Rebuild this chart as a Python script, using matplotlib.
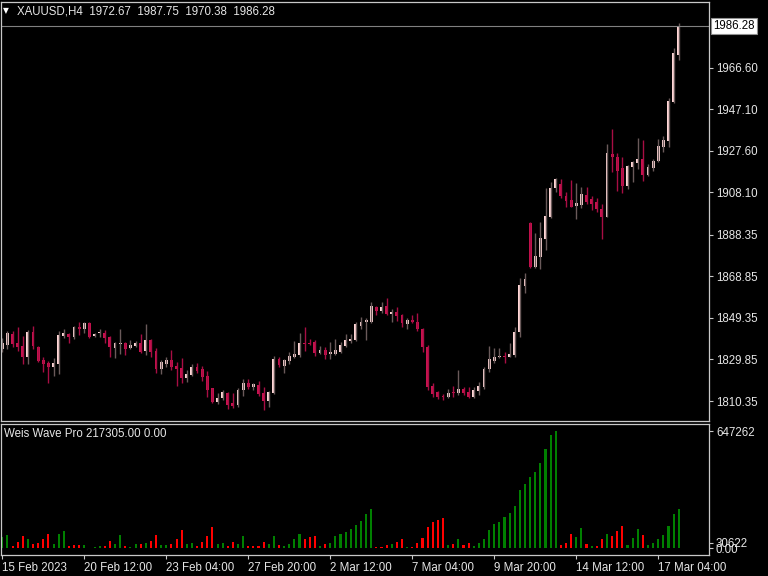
import matplotlib
matplotlib.use("Agg")
import matplotlib.pyplot as plt
import numpy as np

# XAUUSD H4, 15 Feb 2023 20:00 .. 17 Mar 2023 20:00
opens = [1834.7, 1836.6, 1841.8, 1837.5, 1836.1, 1831.0, 1842.7, 1835.7, 1829.6, 1828.2,
         1826.3, 1827.7, 1840.8, 1841.8, 1840.4, 1845.0, 1844.1, 1846.9, 1840.8, 1842.2,
         1842.2, 1840.4, 1835.2, 1837.1, 1837.5, 1835.2, 1836.1, 1837.5, 1833.8, 1839.0,
         1833.8, 1825.4, 1827.7, 1829.6, 1826.8, 1825.8, 1821.1, 1822.5, 1826.3, 1825.4,
         1822.1, 1816.4, 1809.9, 1811.8, 1814.1, 1809.4, 1808.5, 1815.5, 1818.8, 1816.9,
         1817.9, 1814.1, 1810.4, 1814.1, 1830.0, 1826.8, 1829.1, 1831.0, 1831.9, 1837.5,
         1837.5, 1838.0, 1832.9, 1834.3, 1832.4, 1832.4, 1833.3, 1836.1, 1838.5, 1839.0,
         1845.5, 1847.4, 1847.4, 1854.4, 1852.5, 1854.9, 1851.1, 1852.1, 1850.7, 1846.4,
         1848.3, 1847.4, 1844.1, 1835.7, 1817.4, 1814.6, 1812.7, 1812.2, 1814.6, 1814.1,
         1816.0, 1814.6, 1812.2, 1815.0, 1816.9, 1825.4, 1829.1, 1831.0, 1831.4, 1831.0,
         1831.9, 1842.7, 1864.3, 1893.8, 1873.2, 1877.9, 1886.3, 1896.6, 1910.2, 1912.1,
         1906.5, 1904.6, 1901.8, 1902.2, 1906.9, 1905.1, 1903.6, 1900.4, 1896.6, 1926.1,
         1924.7, 1919.6, 1911.1, 1920.1, 1921.9, 1923.8, 1916.3, 1919.6, 1922.9, 1929.4,
         1932.2, 1950.5, 1972.67]
highs = [1839.9, 1843.2, 1843.2, 1845.0, 1840.8, 1843.6, 1845.5, 1836.1, 1831.0, 1829.1,
         1830.5, 1843.2, 1844.1, 1842.2, 1845.5, 1847.4, 1847.4, 1847.4, 1842.2, 1844.1,
         1843.6, 1840.6, 1838.0, 1844.1, 1838.0, 1839.0, 1838.5, 1841.8, 1846.4, 1839.4,
         1835.2, 1829.6, 1831.0, 1834.3, 1828.6, 1830.5, 1824.9, 1827.7, 1828.2, 1826.8,
         1824.4, 1816.6, 1814.1, 1815.5, 1814.6, 1814.1, 1816.4, 1820.7, 1820.7, 1818.8,
         1819.7, 1816.9, 1815.0, 1831.4, 1831.0, 1830.0, 1833.3, 1838.5, 1842.2, 1845.0,
         1839.4, 1839.0, 1836.1, 1835.7, 1838.0, 1839.4, 1838.0, 1841.8, 1841.8, 1847.4,
         1849.7, 1849.3, 1856.8, 1854.9, 1856.8, 1858.6, 1853.5, 1854.4, 1851.1, 1849.3,
         1850.7, 1851.6, 1844.6, 1836.6, 1818.8, 1815.0, 1813.6, 1816.0, 1817.4, 1824.9,
         1816.9, 1816.9, 1816.9, 1819.3, 1826.3, 1836.1, 1835.2, 1835.2, 1833.3, 1837.5,
         1845.0, 1868.0, 1870.4, 1894.3, 1889.1, 1894.3, 1910.2, 1913.0, 1914.9, 1914.4,
         1908.3, 1914.0, 1912.6, 1910.7, 1910.7, 1906.5, 1905.5, 1902.7, 1930.8, 1937.9,
         1926.6, 1924.7, 1921.0, 1922.9, 1933.7, 1932.7, 1921.5, 1923.8, 1933.2, 1934.6,
         1952.4, 1975.8, 1987.75]
lows = [1833.3, 1834.7, 1835.7, 1833.8, 1827.7, 1827.7, 1834.7, 1828.6, 1824.0, 1818.8,
        1822.1, 1823.0, 1839.9, 1837.5, 1839.4, 1841.3, 1842.2, 1840.1, 1840.4, 1840.4,
        1837.5, 1831.0, 1830.5, 1832.4, 1831.9, 1834.7, 1835.7, 1832.9, 1831.9, 1831.0,
        1823.5, 1823.0, 1826.3, 1824.9, 1817.4, 1818.8, 1819.3, 1822.1, 1823.5, 1819.7,
        1812.2, 1809.4, 1808.9, 1810.8, 1806.6, 1807.1, 1807.5, 1812.7, 1816.0, 1815.5,
        1812.7, 1806.1, 1807.5, 1813.6, 1826.3, 1823.5, 1827.7, 1830.5, 1831.0, 1833.8,
        1836.6, 1831.4, 1832.4, 1830.0, 1830.0, 1831.9, 1832.9, 1835.7, 1837.5, 1838.5,
        1844.1, 1839.0, 1846.9, 1850.7, 1851.6, 1850.7, 1847.4, 1847.9, 1845.0, 1844.1,
        1846.9, 1843.2, 1833.3, 1815.5, 1812.2, 1811.3, 1810.8, 1811.8, 1812.2, 1813.2,
        1813.2, 1811.8, 1811.8, 1813.2, 1816.0, 1824.0, 1828.2, 1830.5, 1828.2, 1830.8,
        1831.0, 1840.4, 1861.0, 1872.7, 1872.7, 1872.2, 1881.1, 1896.1, 1908.3, 1905.5,
        1901.3, 1901.1, 1895.7, 1900.8, 1902.7, 1899.9, 1899.0, 1886.3, 1896.4, 1917.7,
        1908.8, 1907.9, 1909.7, 1913.0, 1919.1, 1913.5, 1915.8, 1918.2, 1922.4, 1927.1,
        1929.4, 1950.1, 1970.38]
closes = [1837.5, 1842.2, 1837.1, 1835.7, 1831.0, 1842.7, 1836.1, 1829.1, 1827.7, 1826.3,
          1828.2, 1841.3, 1842.2, 1840.4, 1845.0, 1844.1, 1846.9, 1840.4, 1841.8, 1842.7,
          1839.9, 1835.7, 1837.5, 1837.5, 1834.7, 1836.6, 1837.5, 1833.3, 1839.0, 1833.3,
          1825.4, 1828.6, 1829.6, 1826.3, 1825.4, 1821.1, 1823.0, 1826.3, 1824.4, 1821.6,
          1815.5, 1809.9, 1811.8, 1814.6, 1808.5, 1808.0, 1815.5, 1818.8, 1816.9, 1818.3,
          1813.6, 1810.35, 1814.6, 1830.0, 1827.2, 1829.6, 1831.4, 1832.4, 1837.5, 1837.1,
          1837.1, 1832.9, 1834.3, 1831.9, 1833.3, 1834.3, 1836.6, 1839.0, 1839.4, 1846.4,
          1847.4, 1848.3, 1854.9, 1852.5, 1854.4, 1851.1, 1852.1, 1850.2, 1846.9, 1848.3,
          1847.4, 1844.1, 1835.7, 1816.9, 1813.6, 1812.2, 1812.2, 1814.1, 1814.1, 1816.0,
          1814.1, 1812.2, 1815.5, 1817.4, 1825.4, 1830.0, 1831.0, 1831.4, 1831.0, 1832.4,
          1842.7, 1864.7, 1867.5, 1873.2, 1878.3, 1886.8, 1897.1, 1910.2, 1914.4, 1906.5,
          1904.1, 1901.3, 1903.2, 1907.4, 1903.6, 1902.7, 1900.4, 1896.6, 1926.6, 1924.7,
          1918.2, 1911.1, 1920.5, 1922.4, 1923.8, 1916.3, 1920.1, 1922.9, 1929.9, 1932.7,
          1951.0, 1973.5, 1986.28]

# Weis wave cumulative volume and wave direction (G = up wave, R = down wave)
wave_vol = [60700, 73600, 12900, 36800, 68000, 51500, 22100, 31300, 49700, 79100,
            23900, 77200, 95600, 12900, 18400, 18400, 18400, 3700, 9200, 12900,
            12900, 40500, 23900, 73600, 12900, 9200, 23900, 23900, 31300, 42300,
            73600, 18400, 18400, 23900, 51500, 101100, 23900, 31300, 12900, 36800,
            69900, 119500, 23900, 31300, 12900, 36800, 23900, 68000, 12900, 12900,
            12900, 36800, 22100, 68000, 18400, 12900, 23900, 49700, 79100, 49700,
            64400, 69900, 12900, 22100, 31300, 68000, 79100, 90100, 106700, 126900,
            150800, 189400, 215200, 9200, 9200, 18400, 23900, 33100, 51500, 9200,
            9200, 31300, 57000, 119500, 147100, 156300, 165500, 18400, 23900, 51500,
            18400, 27600, 12900, 27600, 51500, 101100, 134200, 147100, 171000, 196800,
            233600, 321800, 354900, 395400, 419300, 469000, 548000, 625300, 647262, 18400,
            31300, 79100, 60700, 110300, 23900, 12900, 12900, 51500, 77200, 68000,
            97500, 123200, 18400, 55200, 104800, 73600, 18400, 31300, 49700, 73600,
            123200, 189400, 217305]
wave_dir = ("GGRRRGRRRR" "GGGRRRGGGG" "RRGGRGGRGR" "RGGRRRGGRR" "RRGGRRGGRR"
            "RRGGRGGGGR" "RRGRGGGGGG" "GGGRRRGRRG" "RRRRRRRGRG" "RRGGGGGGGG"
            "GGGGGGGGGR" "RRGGRGRRGR" "RRGGGRGGGG" "GGG")

price_ticks = [1810.35, 1829.85, 1849.35, 1868.85, 1888.35, 1908.10, 1927.60, 1947.10, 1966.60]
time_labels = ["15 Feb 2023", "20 Feb 12:00", "23 Feb 04:00", "27 Feb 20:00", "2 Mar 12:00",
               "7 Mar 04:00", "9 Mar 20:00", "14 Mar 12:00", "17 Mar 04:00"]
vol_ticks = [0, 30622, 647262]
vol_labels = ["0.00", "30622", "647262"]

plt.rcParams['font.family'] = ['Liberation Sans', 'DejaVu Sans']
fs = 8.3
fg = '#E6E6E6'
frame = '#C8C8C8'
bull_body, bull_wick = '#FFD6D6', '#6A5A5A'
bear_body, bear_wick = '#C8124F', '#A80E44'

W, H = 768, 576
def rect(x0, y0, x1, y1):
    return [x0 / W, 1 - y1 / H, (x1 - x0) / W, (y1 - y0) / H]

fig = plt.figure(figsize=(W / 100, H / 100), dpi=100, facecolor='black')
ax = fig.add_axes(rect(1, 2, 709, 421), facecolor='black')
axv = fig.add_axes(rect(1, 424, 709, 555), facecolor='black')

o = np.array(opens); h = np.array(highs); l = np.array(lows); c = np.array(closes)
x = np.arange(len(o))
up = c >= o
ax.vlines(x[up], l[up], h[up], color=bull_wick, lw=1)
ax.vlines(x[~up], l[~up], h[~up], color=bear_wick, lw=1)
body_lo = np.minimum(o, c)
body_h = np.maximum(np.abs(c - o), 0.4)
ax.bar(x[up], body_h[up], bottom=body_lo[up], width=0.55, color=bull_body, lw=0)
ax.bar(x[~up], body_h[~up], bottom=body_lo[~up], width=0.55, color=bear_body, lw=0)

ax.axhline(closes[-1], color='#808080', lw=0.8)

xlim = (-0.25, 137.9)
ax.set_xlim(*xlim)
ax.set_ylim(1800.98, 1997.4)
ax.set_xticks([])
ax.yaxis.tick_right()
ax.set_yticks(price_ticks)
ax.set_yticklabels([f"{v:.2f}" for v in price_ticks])
ax.tick_params(axis='y', colors=frame, labelcolor=fg, labelsize=fs, length=3, pad=2)

vcol = ['#008000' if d == 'G' else '#FF0000' for d in wave_dir]
axv.bar(x, wave_vol, width=0.4, color=vcol, lw=0)
axv.set_xlim(*xlim)
axv.set_ylim(-37000, 686000)
axv.yaxis.tick_right()
axv.set_yticks(vol_ticks)
axv.set_yticklabels(vol_labels)
axv.tick_params(axis='y', colors=frame, labelcolor=fg, labelsize=fs, length=3, pad=2)
axv.set_xticks(np.arange(len(time_labels)) * 16)
axv.set_xticklabels(time_labels)
for t in axv.get_xticklabels():
    t.set_ha('left')
axv.tick_params(axis='x', colors=frame, labelcolor=fg, labelsize=fs, length=3, pad=2)

for a in (ax, axv):
    for s in a.spines.values():
        s.set_color(frame)
        s.set_linewidth(0.9)

fig.text(6 / W, 1 - 11 / H, "\u25bc", color='white', fontsize=5.5, ha='center', va='center',
         family='DejaVu Sans')
fig.text(17 / W, 1 - 11 / H, "XAUUSD,H4  1972.67  1987.75  1970.38  1986.28", color=fg,
         fontsize=fs, va='center')
fig.text(4 / W, 1 - 434 / H, "Weis Wave Pro 217305.00 0.00", color=fg, fontsize=fs, va='center')
fig.text(713 / W, 1 - 26 / H, f"{closes[-1]:.2f}", color='black', fontsize=fs, va='center',
         bbox=dict(boxstyle='square,pad=0.2', facecolor='white', edgecolor='#909090', lw=0.8))

fig.savefig("out.png", dpi=100, facecolor='black')
